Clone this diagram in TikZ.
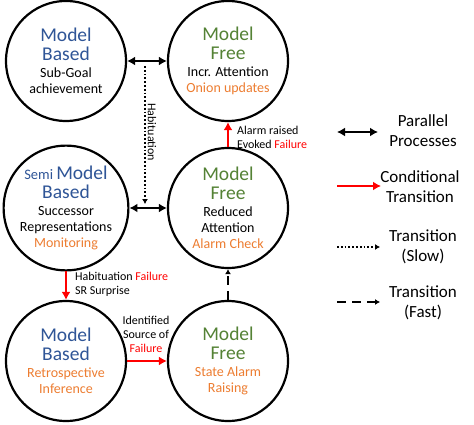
\documentclass[tikz,border=0pt]{standalone}
\usepackage{fontspec}
\setmainfont{Carlito}
\usetikzlibrary{arrows.meta}
\definecolor{mbblue}{HTML}{2F5597}
\definecolor{mfgreen}{HTML}{548235}
\definecolor{taskorange}{HTML}{ED7D31}
\definecolor{failred}{HTML}{FF0000}
\newcommand{\lrg}[1]{{\fontsize{19.5}{20}\selectfont #1}}
\begin{document}
\begin{tikzpicture}[x=1pt, y=-1pt,
    state/.style={circle, draw=black, line width=2.2pt, fill=white,
        minimum size=120pt, inner sep=0pt, align=center,
        font=\fontsize{14}{16}\selectfont},
    parallel/.style={line width=2.6pt, {Latex[length=8pt,width=9pt]}-{Latex[length=8pt,width=9pt]}},
    cond/.style={line width=2.6pt, draw=failred, -{Latex[length=8pt,width=9pt]}},
    slow/.style={line width=1.8pt, dotted, -{Latex[length=5pt,width=6pt]}},
    fast/.style={line width=2pt, dash pattern=on 9pt off 6pt, -{Latex[length=5pt,width=6pt]}},
    lbl/.style={font=\fontsize{12}{14}\selectfont, align=left, inner sep=0pt},
    legend/.style={font=\fontsize{17}{20}\selectfont, align=center}
]
    \useasboundingbox (0,0) rectangle (474,425);
    % states
    \node[state] (mbtop) at (66,61) {\textcolor{mbblue}{\lrg{Model}}\\[3pt] \textcolor{mbblue}{\lrg{Based}}\\[1pt] Sub-Goal\\ achievement};
    \node[state] (mftop) at (228,61) {\textcolor{mfgreen}{\lrg{Model}}\\[3pt] \textcolor{mfgreen}{\lrg{Free}}\\[1pt] Incr. Attention\\ \textcolor{taskorange}{Onion updates}};
    \node[state] (smb) at (66,208) {\textcolor{mbblue}{{\fontsize{14.5}{16}\selectfont Semi} \lrg{Model}}\\[3pt] \textcolor{mbblue}{\lrg{Based}}\\[1pt] Successor\\ Representations\\ \textcolor{taskorange}{Monitoring}};
    \node[state] (mfmid) at (228,208) {\textcolor{mfgreen}{\lrg{Model}}\\[3pt] \textcolor{mfgreen}{\lrg{Free}}\\[1pt] Reduced\\ Attention\\ \textcolor{taskorange}{Alarm Check}};
    \node[state] (mbbot) at (66,361) {\textcolor{mbblue}{\lrg{Model}}\\[3pt] \textcolor{mbblue}{\lrg{Based}}\\[1pt] \textcolor{taskorange}{Retrospective}\\ \textcolor{taskorange}{Inference}};
    \node[state] (mfbot) at (228,361) {\textcolor{mfgreen}{\lrg{Model}}\\[3pt] \textcolor{mfgreen}{\lrg{Free}}\\[1pt] \textcolor{taskorange}{State Alarm}\\ \textcolor{taskorange}{Raising}};
    % transitions
    \draw[parallel] (mbtop) -- (mftop);
    \draw[parallel] (smb) -- (mfmid);
    \coordinate (habstart) at (145,66);
    \coordinate (habend) at (145,204);
    \draw[slow] (habstart) -- (habend) node[pos=0.48, rotate=-90, anchor=south, yshift=2pt, lbl] {Habituation};
    \draw[cond] (mfmid) -- (mftop);
    \node[lbl, anchor=west] (alarm) at (237,137) {Alarm raised\\ Evoked \textcolor{failred}{Failure}};
    \draw[fast] (mfbot) -- (mfmid);
    \draw[cond] (smb) -- (mbbot);
    \node[lbl, anchor=west] (habfail) at (75,284) {Habituation \textcolor{failred}{Failure}\\ SR Surprise};
    \draw[cond] (mbbot) -- (mfbot);
    \node[lbl, align=center, anchor=south] (ident) at (146,353) {Identified\\ Source of\\ \textcolor{failred}{Failure}};
    % legend
    \coordinate (par1) at (337,132); \coordinate (par2) at (378,132);
    \draw[parallel] (par1) -- (par2);
    \node[legend] (parlbl) at (423,131) {Parallel\\ Processes};
    \coordinate (con1) at (337,186); \coordinate (con2) at (381,186);
    \draw[cond] (con1) -- (con2);
    \node[legend] (conlbl) at (420,187) {Conditional\\ Transition};
    \coordinate (slo1) at (337,247); \coordinate (slo2) at (380,247);
    \draw[slow] (slo1) -- (slo2);
    \node[legend] (slolbl) at (423,247) {Transition\\ (Slow)};
    \coordinate (fas1) at (337,302); \coordinate (fas2) at (380,302);
    \draw[fast] (fas1) -- (fas2);
    \node[legend] (faslbl) at (423,303) {Transition\\ (Fast)};
\end{tikzpicture}
\end{document}
